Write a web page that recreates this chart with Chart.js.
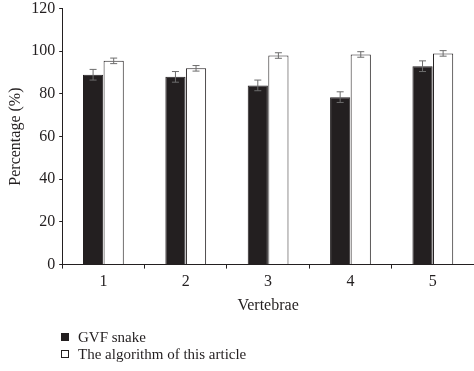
<!DOCTYPE html>
<html>
<head>
<meta charset="utf-8">
<script src="https://cdn.jsdelivr.net/npm/chart.js@4"></script>
<style>
  html, body { margin: 0; padding: 0; background: #fff; }
  #wrap { width: 474px; height: 371px; position: relative; overflow: hidden; }
  #inner { position: absolute; left: 0; top: -5px; width: 474px; height: 376px; }
</style>
</head>
<body>
<div id="wrap"><div id="inner"><canvas id="chart"></canvas></div></div>
<script>
// ---- data ----
const categories = ['1', '2', '3', '4', '5'];
const gvfValues = [89, 88, 84, 78.5, 93];
const gvfErrors = [2.5, 2.5, 2.5, 2.5, 2.5];
const ourValues = [95.5, 92, 98, 98.5, 99];
const ourErrors = [1.3, 1.3, 1.3, 1.3, 1.3];
const seriesNames = ['GVF snake', 'The algorithm of this article'];
const yTicks = [0, 20, 40, 60, 80, 100, 120];

const FONT = "'Liberation Serif', 'DejaVu Serif', serif";
const INK = '#231f20';

// error bars drawn with the chart's own y scale
const errorBars = {
  id: 'errorBars',
  afterDatasetsDraw(chart) {
    const ctx = chart.ctx;
    const y = chart.scales.y;
    chart.data.datasets.forEach((ds, i) => {
      const meta = chart.getDatasetMeta(i);
      meta.data.forEach((bar, j) => {
        const v = ds.data[j], e = ds.errors[j];
        const top = y.getPixelForValue(v + e);
        const bot = y.getPixelForValue(v - e);
        ctx.save();
        ctx.strokeStyle = '#6d6d6d';
        ctx.lineWidth = 1;
        ctx.beginPath();
        ctx.moveTo(bar.x, top); ctx.lineTo(bar.x, bot);
        ctx.moveTo(bar.x - 3.5, top); ctx.lineTo(bar.x + 3.5, top);
        ctx.moveTo(bar.x - 3.5, bot); ctx.lineTo(bar.x + 3.5, bot);
        ctx.stroke();
        ctx.restore();
      });
    });
  }
};

// legend as a column in the lower left (canvas is shifted up 5px)
const sideLegend = {
  id: 'sideLegend',
  afterDraw(chart) {
    const ctx = chart.ctx;
    ctx.save();
    ctx.font = '15px ' + FONT;
    ctx.textBaseline = 'middle';
    chart.data.datasets.forEach((ds, i) => {
      const cy = 342 + i * 17;
      ctx.fillStyle = ds.backgroundColor;
      ctx.strokeStyle = INK;
      ctx.lineWidth = 1;
      ctx.fillRect(61.5, cy - 3.5, 7, 7);
      ctx.strokeRect(61.5, cy - 3.5, 7, 7);
      ctx.fillStyle = INK;
      ctx.fillText(ds.label, 78, cy + 1);
    });
    ctx.restore();
  }
};

new Chart(document.getElementById('chart'), {
  type: 'bar',
  data: {
    labels: categories,
    datasets: [
      {
        label: seriesNames[0],
        data: gvfValues,
        errors: gvfErrors,
        backgroundColor: '#231f20',
        borderColor: INK,
        borderWidth: 1,
        categoryPercentage: 0.5,
        barPercentage: 0.98
      },
      {
        label: seriesNames[1],
        data: ourValues,
        errors: ourErrors,
        backgroundColor: '#ffffff',
        borderColor: INK,
        borderWidth: 1,
        categoryPercentage: 0.5,
        barPercentage: 0.98
      }
    ]
  },
  options: {
    responsive: true,
    maintainAspectRatio: false,
    animation: false,
    layout: { padding: { top: 0, right: 0, bottom: 52, left: 2 } },
    plugins: {
      legend: { display: false },
      tooltip: { enabled: false }
    },
    scales: {
      x: {
        grid: { display: true, drawOnChartArea: false, drawTicks: true, tickLength: 4, color: INK, offset: true },
        border: { color: INK, width: 1 },
        ticks: { color: INK, font: { family: FONT, size: 16 }, padding: 4 },
        title: { display: true, text: 'Vertebrae', color: INK, font: { family: FONT, size: 16 }, padding: { top: 0 } }
      },
      y: {
        min: 0,
        max: 120,
        afterBuildTicks: (axis) => { axis.ticks = yTicks.map(v => ({ value: v })); },
        grid: { display: true, drawOnChartArea: false, drawTicks: true, tickLength: 3, color: INK },
        border: { color: INK, width: 1 },
        ticks: { color: INK, font: { family: FONT, size: 16 }, padding: 4 },
        title: { display: true, text: 'Percentage (%)', color: INK, font: { family: FONT, size: 16 }, padding: { bottom: 2 } }
      }
    }
  },
  plugins: [errorBars, sideLegend]
});
</script>
</body>
</html>
